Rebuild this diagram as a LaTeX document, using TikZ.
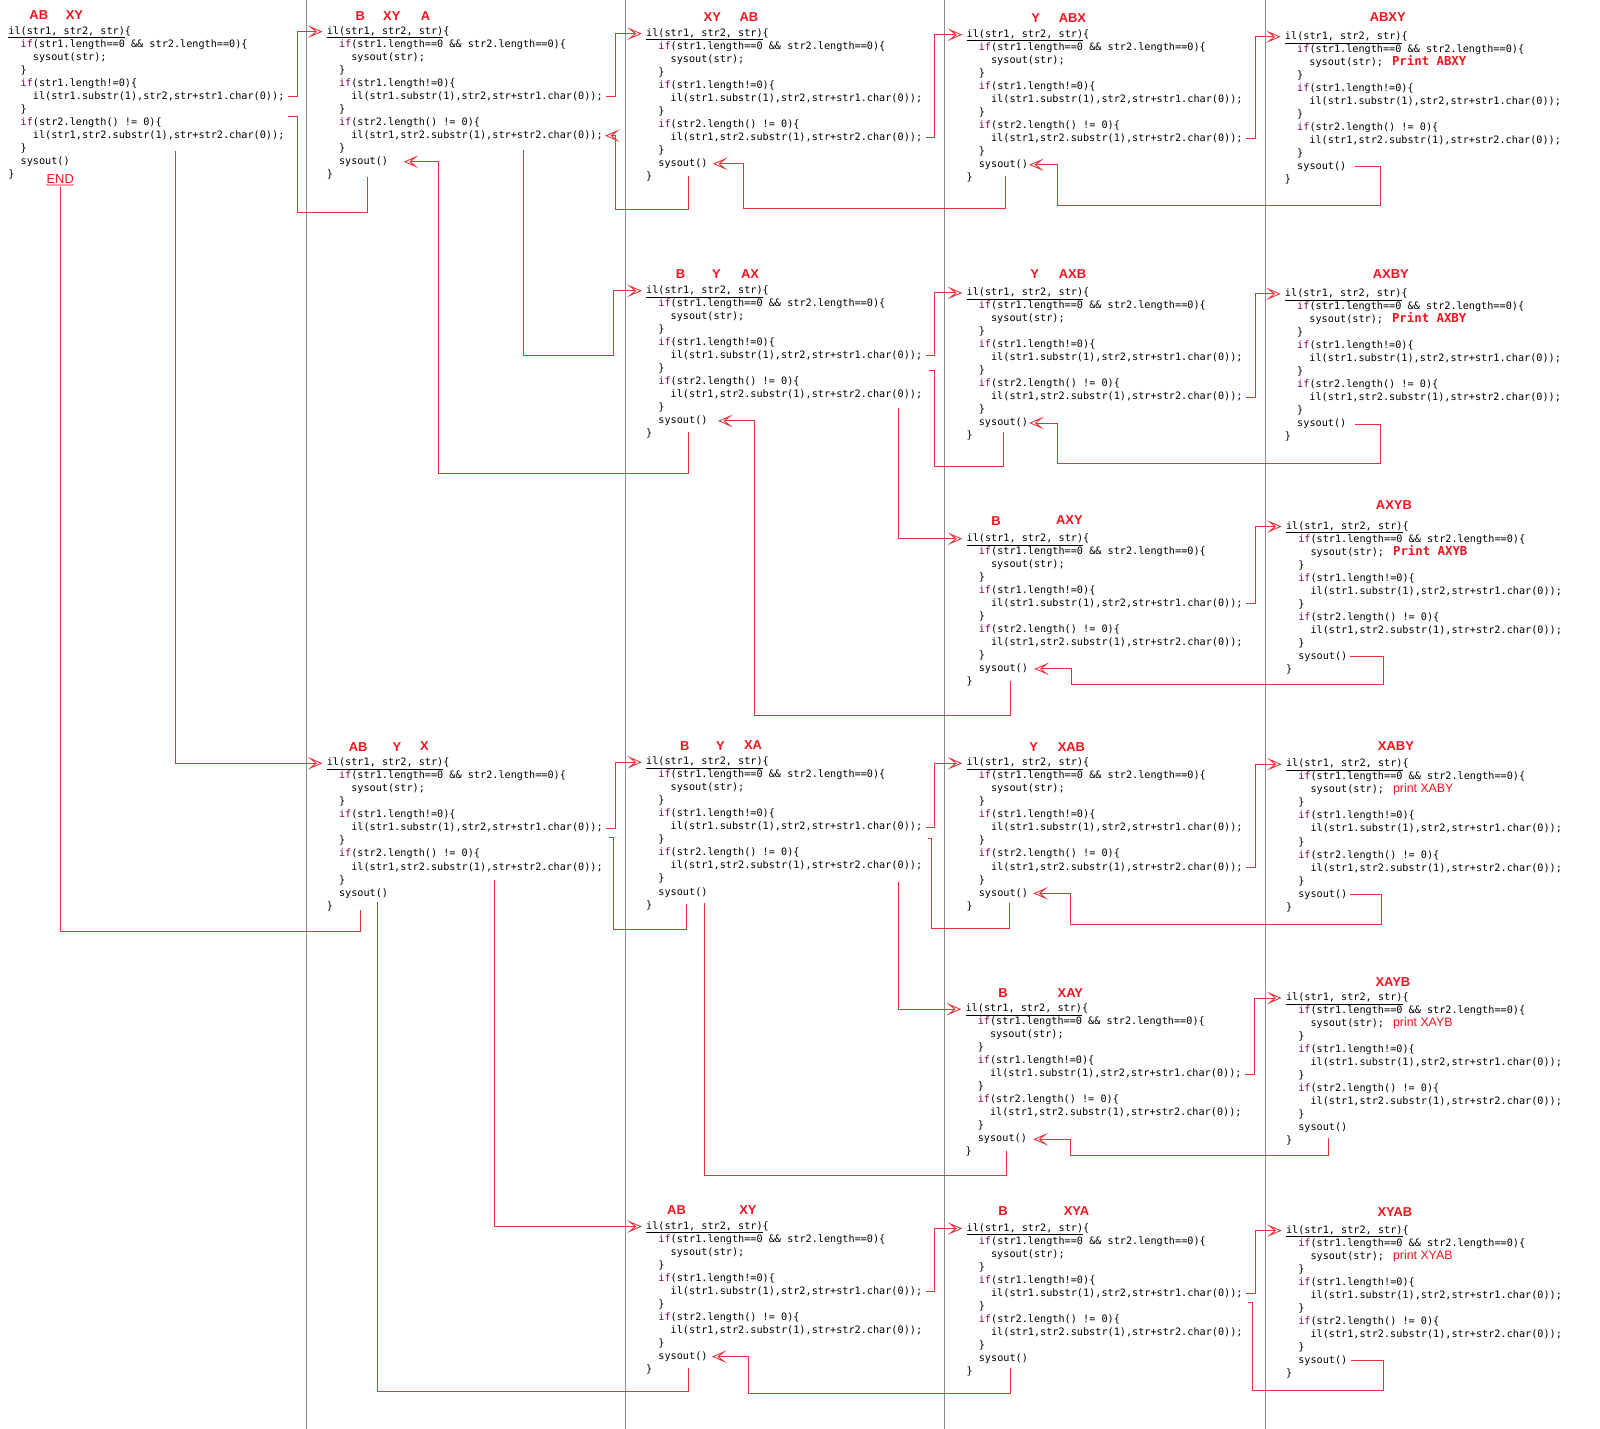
\documentclass[tikz,border=0pt]{standalone}
\usepackage{fontspec}
\usetikzlibrary{arrows.meta,calc}

\newfontfamily\codefamily{DejaVu Sans Mono}
\newfontfamily\lblfamily{Liberation Sans}

\definecolor{kwpurple}{HTML}{7F0055}
\definecolor{linered}{HTML}{E8303A}
\definecolor{lblred}{HTML}{F0141E}
\definecolor{sepgray}{HTML}{8C8C8C}

\newcommand\keyw[1]{{\color{kwpurple}#1}}
\newcommand\prtbig[1]{\hspace{2.2mm}{\codefamily\bfseries\fontsize{8.6}{9}\selectfont\color{lblred}#1}}
\newcommand\prtsmall[1]{\hspace{2.2mm}{\lblfamily\fontsize{8.6}{9}\selectfont\color{lblred}#1}}

\tikzset{
  code/.style={font=\codefamily\fontsize{7.1}{9}\selectfont, anchor=west, inner sep=0pt,
    text height=1.9mm, text depth=0.6mm, text=black},
  lbl/.style={font=\lblfamily\bfseries\fontsize{9}{10}\selectfont, text=lblred, inner sep=0pt},
  call/.style={draw=linered, line width=0.6pt, -{Stealth[open, length=3.6mm, width=3.1mm, inset=1.9mm]}},
  back/.style={draw=linered, line width=0.6pt},
  sep/.style={draw=sepgray, line width=0.6pt}
}

% one call of il(): name, x, y of the header line, note after sysout(str);
\newcommand\ilblock[4]{%
  \node[code] (#1-head)  at (#2,    #3)        {\underline{il(str1, str2, str)}\{};
  \node[code] (#1-if0)   at (#2+12, #3+12.75)  {\keyw{if}(str1.length==0 \&\& str2.length==0)\{};
  \node[code] (#1-sys)   at (#2+24, #3+25.5)   {sysout(str);#4};
  \node[code] (#1-c0)    at (#2+12, #3+38.25)  {\}};
  \node[code] (#1-if1)   at (#2+12, #3+51)     {\keyw{if}(str1.length!=0)\{};
  \node[code] (#1-call1) at (#2+24, #3+63.75)  {il(str1.substr(1),str2,str+str1.char(0));};
  \node[code] (#1-c1)    at (#2+12, #3+76.5)   {\}};
  \node[code] (#1-if2)   at (#2+12, #3+89.25)  {\keyw{if}(str2.length() != 0)\{};
  \node[code] (#1-call2) at (#2+24, #3+102)    {il(str1,str2.substr(1),str+str2.char(0));};
  \node[code] (#1-c2)    at (#2+12, #3+114.75) {\}};
  \node[code] (#1-out)   at (#2+12, #3+127.5)  {sysout()};
  \node[code] (#1-end)   at (#2,    #3+140.25) {\}};
}

\begin{document}
\begin{tikzpicture}[x=0.025cm, y=-0.025cm]

  \fill[white] (0,0) rectangle (1568,1400);
  \useasboundingbox (0,0) rectangle (1568,1400);

  % Column rules:
  \foreach \x in {300,613,926,1240}
    \draw[sep] (\x,0) -- (\x,1400);

  % Calls:
  \ilblock{A1}{8}{31}{}
  \ilblock{B2a}{320}{31}{}
  \ilblock{B2b}{320}{748}{}
  \ilblock{C1}{633}{33}{}
  \ilblock{C2}{633}{285}{}
  \ilblock{C3}{633}{747}{}
  \ilblock{C4}{633}{1202}{}
  \ilblock{D1}{947}{34}{}
  \ilblock{D2}{947}{287}{}
  \ilblock{D3}{947}{528}{}
  \ilblock{D4}{947}{748}{}
  \ilblock{D5}{946}{989}{}
  \ilblock{D6}{947}{1204}{}
  \ilblock{E1}{1259}{36}{\prtbig{Print ABXY}}
  \ilblock{E2}{1259}{288}{\prtbig{Print AXBY}}
  \ilblock{E3}{1260}{516}{\prtbig{Print AXYB}}
  \ilblock{E4}{1260}{749}{\prtsmall{print XABY}}
  \ilblock{E5}{1260}{978}{\prtsmall{print XAYB}}
  \ilblock{E6}{1260}{1206}{\prtsmall{print XYAB}}

  % Values of str1, str2, str:
  \foreach \t/\x/\y [count=\i] in {AB/38/15, XY/73/15, B/353/16, XY/384/16, A/417/16,
      AB/351/732, Y/389/732, X/416/731, XY/698/17, AB/734/17, B/667/269, Y/702/269, AX/735/269,
      B/671/731, Y/706/731, XA/738/730, AB/663/1186, XY/733/1186, Y/1015/18, ABX/1051/18,
      Y/1014/269, AXB/1051/269, B/976/511, AXY/1048/510, Y/1013/732, XAB/1050/732,
      B/983/973, XAY/1049/973, B/983/1187, XYA/1055/1187, ABXY/1360/17, AXBY/1363/269,
      AXYB/1366/495, XABY/1368/731, XAYB/1365/962, XYAB/1367/1188}
    \node[lbl] (lbl\i) at (\x,\y) {\t};

  \node[lbl, font=\lblfamily\fontsize{9}{10}\selectfont] (A1-endlbl) at (59,175) {END};
  \draw[draw=linered!45, line width=1.1pt] ([yshift=-0.4mm]A1-endlbl.south west) -- ([yshift=-0.4mm]A1-endlbl.south east);

  % Calls from str1:
  \draw[call] ([xshift=.75mm]A1-call1.east)  -- ++(9,0) |- ([xshift=-1mm]B2a-head.west);
  \draw[call] ([xshift=.75mm]B2a-call1.east) -- ++(9,0) |- ([xshift=-1mm]C1-head.west);
  \draw[call] ([xshift=.75mm]C2-call1.east)  -- ++(9,0) |- ([xshift=-1mm]D2-head.west);
  \draw[call] ([xshift=.75mm]D3-call1.east)  -- ++(9,0) |- ([xshift=-1mm]E3-head.west);
  \draw[call] ([xshift=.75mm]B2b-call1.east) -- ++(9,0) |- ([xshift=-1mm]C3-head.west);
  \draw[call] ([xshift=.75mm]C3-call1.east)  -- ++(9,0) |- ([xshift=-1mm]D4-head.west);
  \draw[call] ([xshift=.75mm]D5-call1.east)  -- ++(9,0) |- ([xshift=-1mm]E5-head.west);
  \draw[call] ([xshift=.75mm]C4-call1.east)  -- ++(9,0) |- ([xshift=-1mm]D6-head.west);
  \draw[call] ([xshift=.75mm]D6-call1.east)  -- ++(9,0) |- ([xshift=-1mm]E6-head.west);

  % Calls from str2:
  \draw[call] ([xshift=.75mm]C1-call2.east)  -- ++(9,0) |- ([xshift=-1mm]D1-head.west);
  \draw[call] ([xshift=.75mm]D1-call2.east)  -- ++(9,0) |- ([xshift=-1mm]E1-head.west);
  \draw[call] ([xshift=.75mm]D2-call2.east)  -- ++(9,0) |- ([xshift=-1mm]E2-head.west);
  \draw[call] ([xshift=.75mm]D4-call2.east)  -- ++(9,0) |- ([xshift=-1mm]E4-head.west);
  \draw[call] ($(A1-call2.south west)+(140,10)$) |- ([xshift=-1mm]B2b-head.west);
  \draw[call] ($(B2a-call2.south west)+(169,9)$) |- ($(C2-call1.west)+(-56,0)$) |- ([xshift=-1mm]C2-head.west);
  \draw[call] ($(B2b-call2.south west)+(141,7)$) |- ([xshift=-1mm]C4-head.west);
  \draw[call] ($(C2-call2.south west)+(223,8)$)  |- ([xshift=-1mm]D3-head.west);
  \draw[call] ($(C3-call2.south west)+(223,10)$) |- ([xshift=-1mm]D5-head.west);

  % Returns:
  \draw[back] ($(B2a-out.south west)+(28,9.5)$) -- ++(0,35) -| ($(A1-call1.east)+(12,19)$) -- ++(-9,0);
  \draw[back] ($(D2-out.south west)+(24,3.5)$) -- ++(0,34) -| ($(C2-call1.east)+(12,14)$) -- ++(-6,0);
  \draw[back] ($(C3-out.south west)+(28,6.5)$) -- ++(0,25) -| ($(B2b-call1.east)+(10,9)$) -- ++(-4,0);
  \draw[back] ($(D4-out.south west)+(30,4.5)$) -- ++(0,25) -| ($(C3-call1.east)+(9,11)$) -- ++(-4,0);
  \draw[back] ([xshift=.75mm]E6-out.east) -- ++(32,0) -- ++(0,29) -| ($(D6-call1.east)+(9,9)$) -- ++(-4,0);
  \draw[back] ($(D5-out.south west)+(28,6.5)$) -- ++(0,24) -| ($(C3-out.south east)+(-3,5)$);
  \draw[back] ($(C4-out.south west)+(30,5.5)$) -- ++(0,23) -| ($(B2b-out.south west)+(38,3.5)$);
  \draw[back] ($(B2b-out.south west)+(21,11.5)$) -- ++(0,21) -| ([yshift=-1mm]A1-endlbl.south);

  \draw[call] ($(C1-out.south west)+(30,6.5)$) -- ++(0,33) -| ($(B2a-call2.east)+(12,0)$) -- ([xshift=.5mm]B2a-call2.east);
  \draw[call] ($(C2-out.south west)+(30,6)$) -- ++(0,40) -| ($(B2a-out.east)+(49,0)$) -- ($(B2a-out.east)+(15,0)$);
  \draw[call] ($(D1-out.south west)+(26,5.5)$) -- ++(0,32) -| ($(C1-out.east)+(35,0)$) -- ($(C1-out.east)+(5,0)$);
  \draw[call] ([xshift=2mm]E1-out.east) -- ++(25,0) -- ++(0,37.5) -| ($(D1-out.east)+(29,0)$) -- ($(D1-out.east)+(1,0)$);
  \draw[call] ($(D3-out.south west)+(31,6.5)$) -- ++(0,34) -| ($(C2-out.east)+(46,0)$) -- ($(C2-out.east)+(10,0)$);
  \draw[call] ([xshift=2mm]E2-out.east) -- ++(25,0) -- ++(0,38.5) -| ($(D2-out.east)+(29,0)$) -- ($(D2-out.east)+(1,0)$);
  \draw[call] ([xshift=.5mm]E3-out.east) -- ++(33,0) -- ++(0,27.5) -| ($(D3-out.east)+(42,0)$) -- ($(D3-out.east)+(6,0)$);
  \draw[call] ([xshift=.5mm]E4-out.east) -- ++(31,0) -- ++(0,29.5) -| ($(D4-out.east)+(41,0)$) -- ($(D4-out.east)+(5,0)$);
  \draw[call] ($(E5-out.south west)+(30,4)$) -- ++(0,18) -| ($(D5-out.east)+(42,0)$) -- ($(D5-out.east)+(6,0)$);
  \draw[call] ($(D6-out.south west)+(31,3.5)$) -- ++(0,25) -| ($(C4-out.east)+(40,0)$) -- ($(C4-out.east)+(4,0)$);

\end{tikzpicture}
\end{document}
